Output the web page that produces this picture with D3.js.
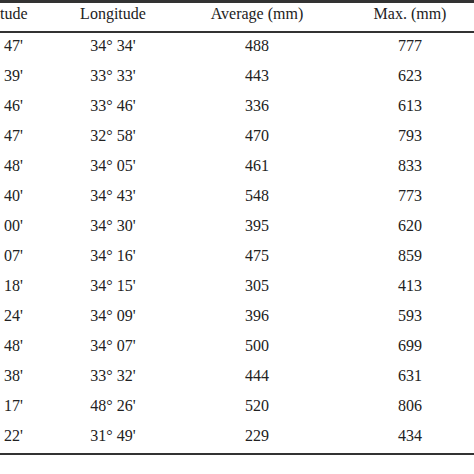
<!DOCTYPE html>
<html><head><meta charset="utf-8">
<script src="https://cdn.jsdelivr.net/npm/d3@7"></script>
<style>body{margin:0;background:#fff}</style>
</head><body>
<script>
var headers = ["tude", "Longitude", "Average (mm)", "Max. (mm)"];
var latMin = ["47'", "39'", "46'", "47'", "48'", "40'", "00'", "07'", "18'", "24'", "48'", "38'", "17'", "22'"];
var longitude = ["34° 34'", "33° 33'", "33° 46'", "32° 58'", "34° 05'", "34° 43'", "34° 30'", "34° 16'", "34° 15'", "34° 09'", "34° 07'", "33° 32'", "48° 26'", "31° 49'"];
var average = [488, 443, 336, 470, 461, 548, 395, 475, 305, 396, 500, 444, 520, 229];
var maxRain = [777, 623, 613, 793, 833, 773, 620, 859, 413, 593, 699, 631, 806, 434];

var svg = d3.select("body").append("svg").attr("width", 474).attr("height", 474)
  .style("font-family", "'Liberation Serif', serif").style("font-size", "16px").attr("fill", "#222");

var y = d3.scaleLinear().domain([0, latMin.length - 1]).range([45, 435]);
var colX = [4, 113, 257, 410];
var anchors = ["start", "middle", "middle", "middle"];

var line = function(yy, w) {
  svg.append("line").attr("x1", 0).attr("x2", 474).attr("y1", yy).attr("y2", yy)
    .attr("stroke", "#333").attr("stroke-width", w);
};
line(1.5, 3); line(32, 2); line(454, 2);

svg.selectAll("text.h").data(headers).enter().append("text")
  .attr("x", function(d, i) { return i === 0 ? 0 : colX[i]; })
  .attr("y", 13).attr("dy", "0.35em").attr("text-anchor", function(d, i) { return anchors[i]; })
  .text(function(d) { return d; });

var cols = [latMin, longitude, average, maxRain];
cols.forEach(function(col, c) {
  svg.selectAll("text.c" + c).data(col).enter().append("text")
    .attr("x", colX[c]).attr("y", function(d, i) { return y(i); }).attr("dy", "0.35em")
    .attr("text-anchor", anchors[c]).text(function(d) { return d; });
});
</script>
</body></html>
